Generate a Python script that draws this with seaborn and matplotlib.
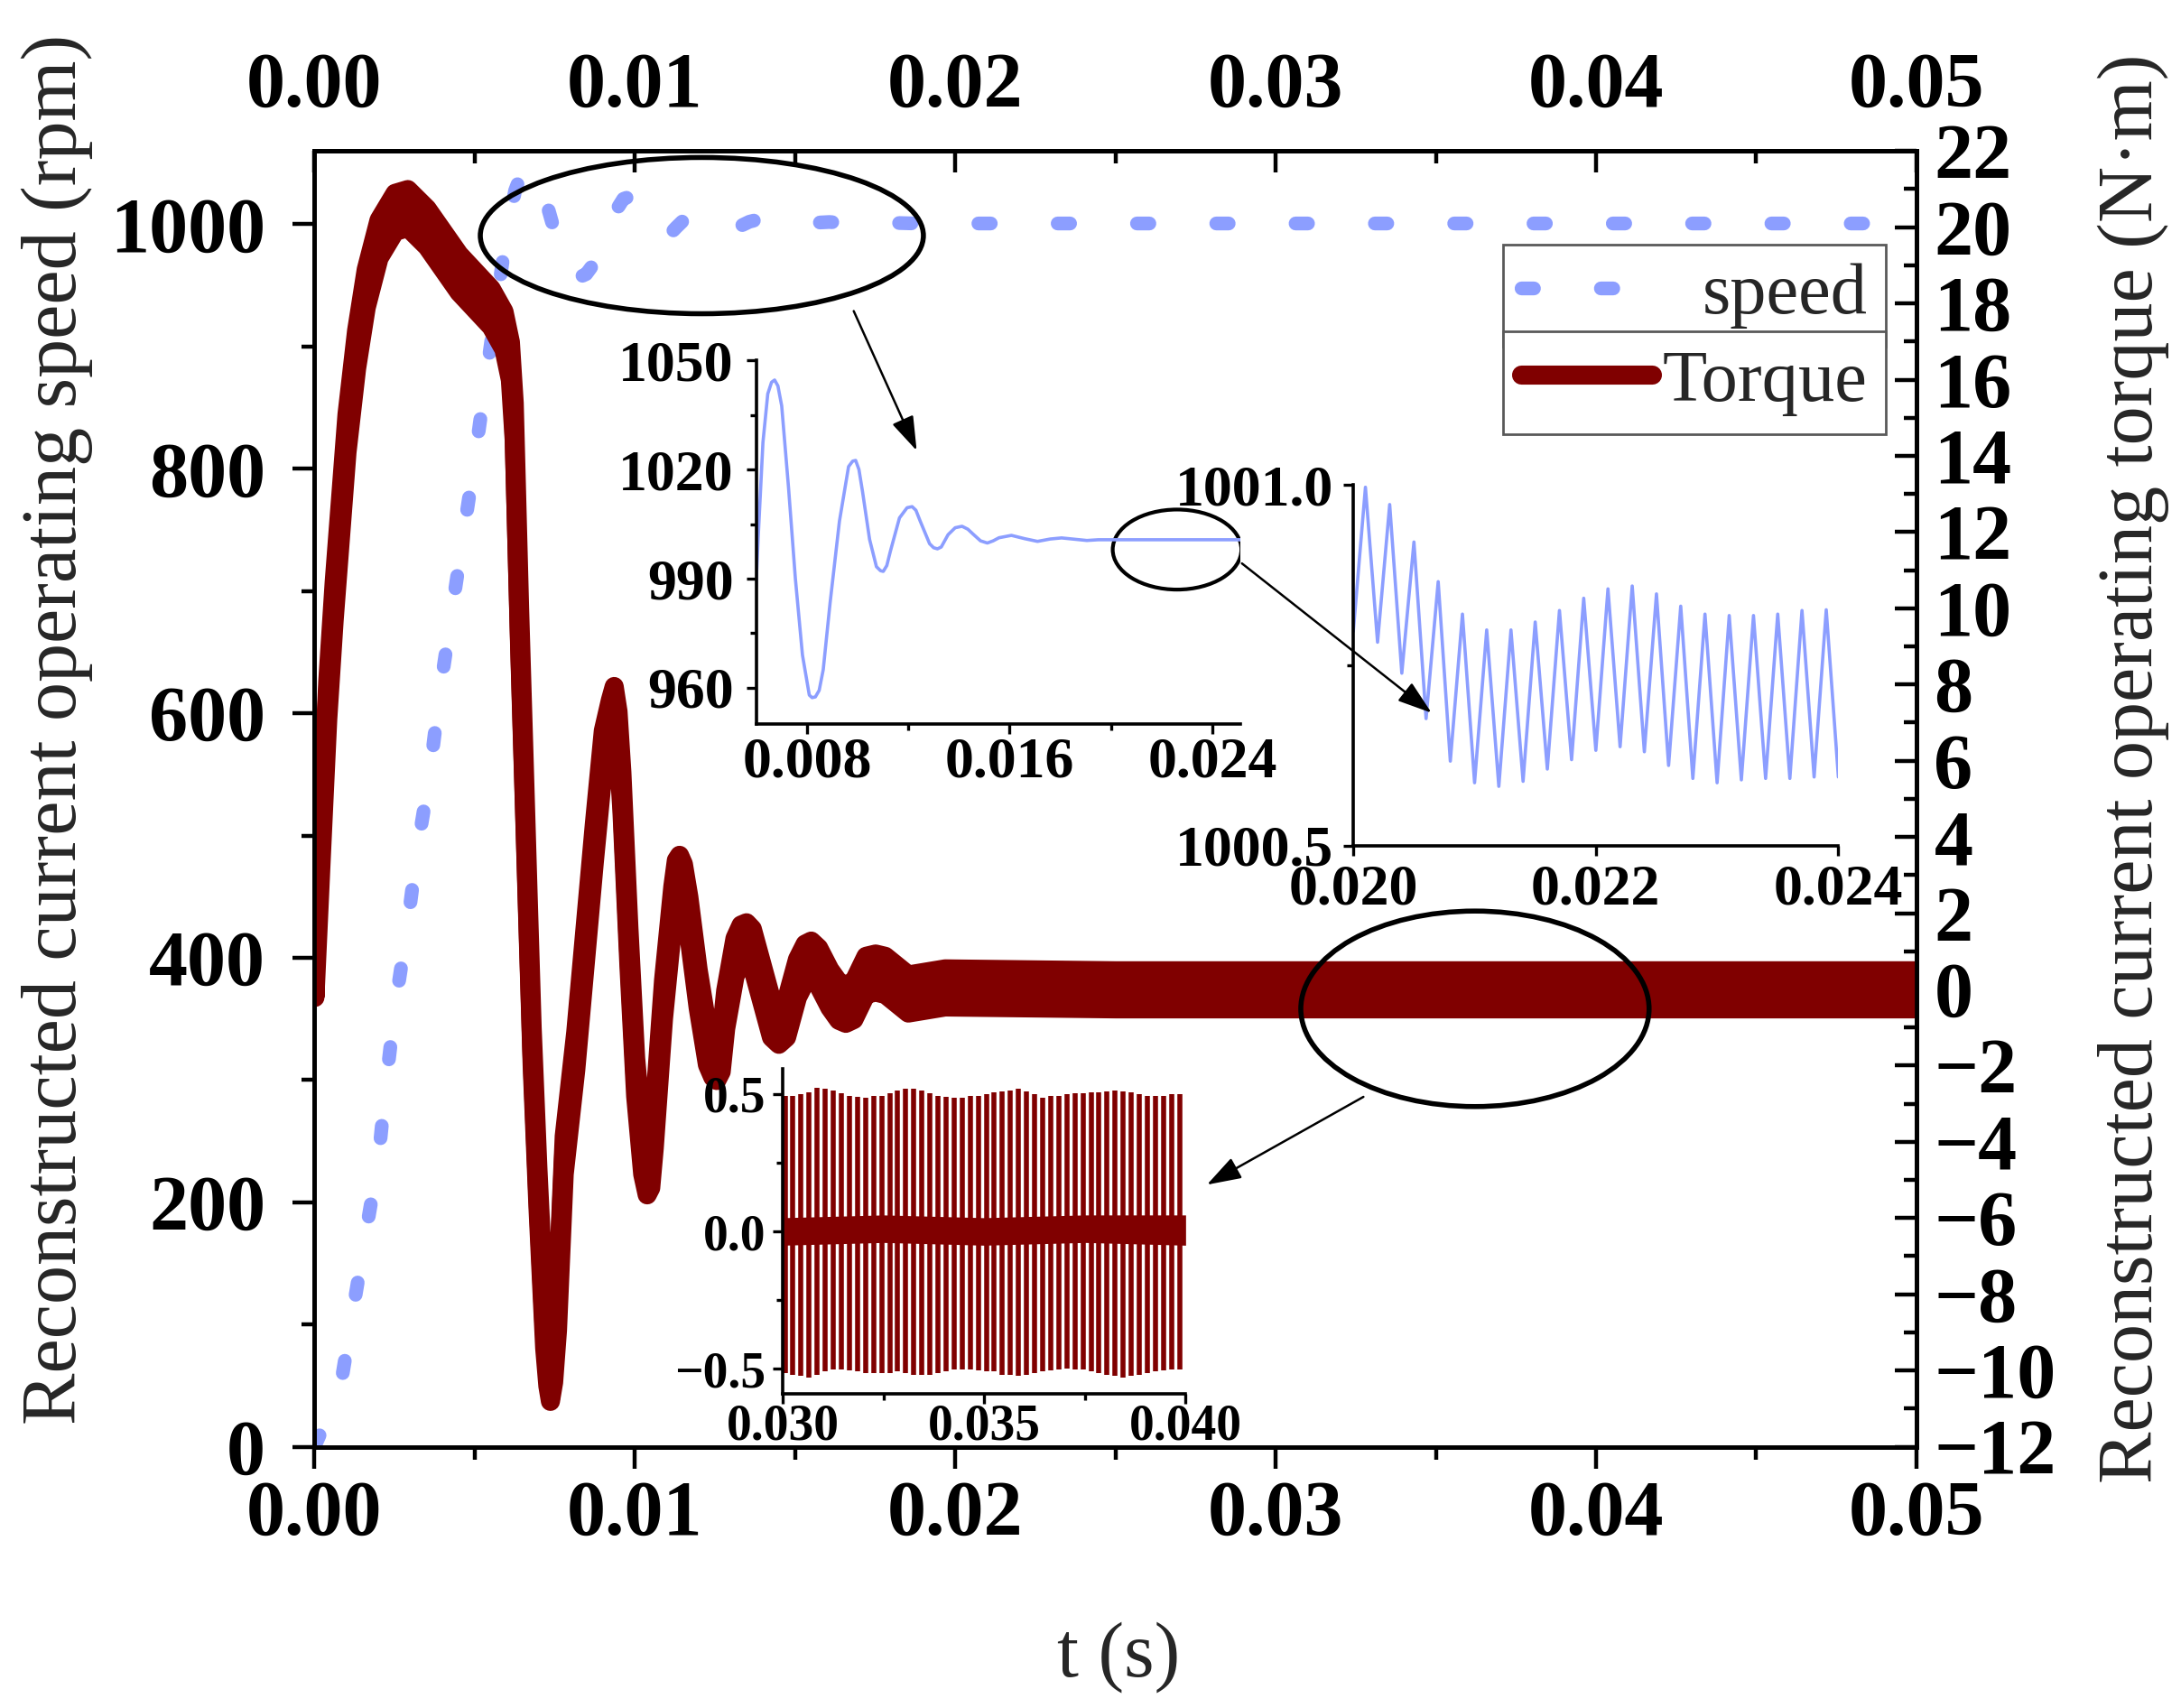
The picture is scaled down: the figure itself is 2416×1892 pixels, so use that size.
import numpy as np
import matplotlib
matplotlib.use("Agg")
import matplotlib.pyplot as plt
from matplotlib.patches import Ellipse
from matplotlib.ticker import MultipleLocator, FuncFormatter
import seaborn as sns

# ---------------- data ----------------
# speed (rpm) over time (s)
speed_t = [0.0, 0.0008, 0.0012, 0.0016, 0.0020, 0.0022, 0.0025, 0.0029, 0.0032, 0.0036, 0.0039,
           0.0046, 0.0050, 0.0053, 0.0056, 0.0059,
           0.00608, 0.00626, 0.00645, 0.00660, 0.00672, 0.00685, 0.00700, 0.00727, 0.00754, 0.00782,
           0.00809, 0.00820, 0.00833, 0.00848, 0.00864, 0.00891, 0.00928, 0.00964, 0.00980, 0.00992,
           0.01005, 0.01019, 0.01047, 0.01074, 0.01090, 0.01101, 0.01115, 0.01129, 0.01165, 0.01195,
           0.01215, 0.01230, 0.01247, 0.01284, 0.01300, 0.01315, 0.01330, 0.01357, 0.01385, 0.01412,
           0.01435, 0.01458, 0.01485, 0.01512, 0.01535, 0.01558, 0.01607, 0.01659, 0.01710, 0.01760,
           0.01805, 0.01905,
           0.0195, 0.025, 0.030, 0.040, 0.050]
speed_rpm = [0, 47, 111, 174, 236, 289, 357, 426, 487, 551, 615,
             738, 807, 864, 920, 975,
             1002.5, 1027.5, 1040.8, 1044.0, 1044.6, 1043.0, 1037.5, 1015.0, 990.0, 969.0,
             958.0, 957.3, 957.5, 959.3, 965.0, 983.3, 1005.8, 1020.8, 1022.3, 1022.5,
             1020.0, 1014.0, 1000.8, 993.3, 992.2, 992.0, 993.6, 997.5, 1006.7, 1009.5,
             1009.8, 1008.8, 1005.8, 999.6, 998.5, 998.2, 998.7, 1002.1, 1004.0, 1004.4,
             1003.6, 1002.1, 1000.4, 999.8, 1000.4, 1001.25, 1001.9, 1001.0, 1000.25, 1000.9,
             1001.2, 1000.5,
             1000.7, 1000.7, 1000.7, 1000.7, 1000.7]

# torque (N*m) over time (s), centre of the band
torque_t = [0.0, 0.0002, 0.0004, 0.0006, 0.0008, 0.0010, 0.0013, 0.0016, 0.0020, 0.0025,
            0.0029, 0.0035, 0.0040, 0.0045, 0.0050, 0.0055, 0.0059, 0.0061, 0.00622, 0.00639,
            0.00652, 0.00665, 0.00678, 0.00696, 0.00717, 0.00727, 0.00735, 0.00745, 0.00757, 0.00778,
            0.00814, 0.00843, 0.00872, 0.00900, 0.00922, 0.00934, 0.00946, 0.00958, 0.00980, 0.01001,
            0.01023, 0.01037, 0.01048, 0.01059, 0.01088, 0.01117, 0.01128, 0.01138, 0.01150, 0.01167,
            0.01196, 0.01225, 0.01242, 0.01254, 0.01268, 0.01282, 0.01311, 0.01330, 0.01347, 0.01365,
            0.01391, 0.01425, 0.01448, 0.01472, 0.01506, 0.01530, 0.01549, 0.01572, 0.01607, 0.01635,
            0.01657, 0.01682, 0.01720, 0.01750, 0.01780, 0.01852, 0.01967,
            0.025, 0.030, 0.035, 0.040, 0.045, 0.050]
torque_nm = [0.3, 4.0, 7.6, 10.2, 12.4, 14.6, 16.8, 18.4, 19.7, 20.4,
             20.5, 20.0, 19.4, 18.8, 18.35, 17.9, 17.3, 16.5, 14.9, 9.45,
             5.8, 2.1, -1.5, -5.2, -8.9, -9.9, -10.3, -9.8, -8.44, -4.34,
             -1.61, 1.12, 3.85, 6.3, 7.1, 7.46, 6.8, 5.21, 1.12, -2.29,
             -4.34, -4.88, -4.7, -3.66, -0.25, 2.21, 2.9, 3.03, 2.8, 1.94,
             0.03, -1.47, -1.8, -1.88, -1.65, -0.52, 0.85, 1.2, 1.26, 1.1,
             0.30, -0.75, -0.93, -0.75, 0.30, 0.7, 0.78, 0.6, 0.03, -0.3,
             -0.38, -0.28, 0.38, 0.44, 0.38, -0.11, 0.05,
             0.0, 0.0, 0.0, 0.0, 0.0, 0.0]
torque_ripple = 0.5   # half height of the ripple band

# speed ripple, 0.020 - 0.024 s
speed_zoom_t = [0.0200, 0.0201, 0.0202, 0.0203, 0.0204, 0.0205, 0.0206, 0.0207, 0.0208, 0.0209,
                0.0210, 0.0211, 0.0212, 0.0213, 0.0214, 0.0215, 0.0216, 0.0217, 0.0218, 0.0219,
                0.0220, 0.0221, 0.0222, 0.0223, 0.0224, 0.0225, 0.0226, 0.0227, 0.0228, 0.0229,
                0.0230, 0.0231, 0.0232, 0.0233, 0.0234, 0.0235, 0.0236, 0.0237, 0.0238, 0.0239,
                0.0240]
speed_zoom_rpm = [1000.797, 1000.997, 1000.782, 1000.973, 1000.739, 1000.921, 1000.676, 1000.866,
                  1000.617, 1000.821, 1000.587, 1000.799, 1000.582, 1000.799, 1000.589, 1000.810,
                  1000.606, 1000.826, 1000.619, 1000.843, 1000.632, 1000.856, 1000.637, 1000.860,
                  1000.630, 1000.849, 1000.611, 1000.832, 1000.593, 1000.821, 1000.587, 1000.819,
                  1000.591, 1000.819, 1000.593, 1000.821, 1000.593, 1000.826, 1000.595, 1000.827,
                  1000.595]

# torque ripple spikes, 0.030 - 0.040 s
spike_t0 = 0.03005
spike_period = 0.0002
spike_hi = [0.492, 0.494, 0.501, 0.506, 0.523, 0.520, 0.512, 0.503, 0.492, 0.490,
            0.487, 0.492, 0.492, 0.503, 0.512, 0.518, 0.520, 0.512, 0.503, 0.492,
            0.490, 0.487, 0.487, 0.492, 0.494, 0.501, 0.506, 0.509, 0.512, 0.520,
            0.509, 0.498, 0.487, 0.492, 0.494, 0.498, 0.503, 0.503, 0.506, 0.506,
            0.509, 0.512, 0.509, 0.506, 0.498, 0.492, 0.492, 0.494, 0.498, 0.498]
spike_lo = [-0.515, -0.520, -0.526, -0.531, -0.520, -0.509, -0.501, -0.501, -0.506, -0.509,
            -0.515, -0.515, -0.515, -0.515, -0.509, -0.515, -0.520, -0.523, -0.520, -0.515,
            -0.509, -0.503, -0.503, -0.503, -0.506, -0.509, -0.509, -0.520, -0.523, -0.526,
            -0.520, -0.515, -0.509, -0.506, -0.501, -0.498, -0.501, -0.503, -0.509, -0.515,
            -0.520, -0.526, -0.531, -0.526, -0.520, -0.515, -0.509, -0.506, -0.503, -0.503]
band_t = [0.0300, 0.0325, 0.0350, 0.0375, 0.0400]
band_hi = [0.05, 0.06, 0.05, 0.06, 0.06]
band_lo = [-0.05, -0.04, -0.05, -0.04, -0.05]

time_ticks = [0.0, 0.01, 0.02, 0.03, 0.04, 0.05]

SPEED_C = "#8C9EFF"
TORQUE_C = "#800000"

# ---------------- style ----------------
sns.set_theme(style="ticks")
plt.rcParams["font.family"] = ["Liberation Serif", "DejaVu Serif"]
plt.rcParams["font.weight"] = "bold"
plt.rcParams["axes.edgecolor"] = "black"
plt.rcParams["xtick.color"] = "black"
plt.rcParams["ytick.color"] = "black"
plt.rcParams["axes.unicode_minus"] = True


def fmt(pattern):
    return FuncFormatter(lambda v, p: (pattern % v).replace("-", "\u2212"))


fig = plt.figure(figsize=(12.08, 9.46), dpi=200)
ax = fig.add_axes([0.1442, 0.153, 0.7345, 0.7586])
ax.set_facecolor("white")
ax2 = ax.twinx()

# speed (left axis)
sns.lineplot(x=speed_t, y=speed_rpm, ax=ax, color=SPEED_C, linewidth=5.5,
             linestyle=(0, (0.9, 4.85)), dash_capstyle="round",
             sort=False, estimator=None, legend=False)
speed_line = ax.lines[-1]

# torque (right axis) with ripple band
t_arr = np.array(torque_t)
q_arr = np.array(torque_nm)
ax2.fill_between(t_arr, q_arr - torque_ripple, q_arr + torque_ripple, facecolor=TORQUE_C,
                 edgecolor=TORQUE_C, linewidth=7.6, joinstyle="round")
sns.lineplot(x=torque_t, y=torque_nm, ax=ax2, color=TORQUE_C, linewidth=7.6,
             solid_capstyle="round", solid_joinstyle="round",
             sort=False, estimator=None, legend=False)
torque_line = ax2.lines[-1]

ax.set_xlim(0, 0.05)
ax.set_ylim(0, 1060)
ax2.set_ylim(-12, 22)
ax.set_xlabel("")
ax.set_ylabel("")
ax2.set_ylabel("")

ax.set_xticks(time_ticks)
ax.xaxis.set_minor_locator(MultipleLocator(0.005))
ax.xaxis.set_major_formatter(fmt("%.2f"))
ax.yaxis.set_major_locator(MultipleLocator(200))
ax.yaxis.set_minor_locator(MultipleLocator(100))
ax2.yaxis.set_major_locator(MultipleLocator(2))
ax2.yaxis.set_minor_locator(MultipleLocator(1))

for sp in list(ax.spines.values()) + list(ax2.spines.values()):
    sp.set_linewidth(1.7)
    sp.set_color("black")

ax.tick_params(axis="x", which="both", direction="out", top=False, labelsize=31, width=1.6, pad=5)
ax.tick_params(axis="y", which="both", direction="out", labelsize=31, width=1.6, pad=11)
ax.tick_params(which="major", length=8.5)
ax.tick_params(which="minor", length=5)
ax2.tick_params(axis="y", which="both", direction="in", labelsize=31, width=1.6, pad=7)
ax2.tick_params(which="major", length=8.5)
ax2.tick_params(which="minor", length=5)

top = ax.secondary_xaxis("top")
top.set_xticks(time_ticks)
top.xaxis.set_minor_locator(MultipleLocator(0.005))
top.xaxis.set_major_formatter(fmt("%.2f"))
top.tick_params(which="both", direction="in", labelsize=31, width=1.6, pad=11)
top.tick_params(which="major", length=8.5)
top.tick_params(which="minor", length=5)
top.spines["top"].set_linewidth(1.7)

# axis titles
fig.text(0.026, 0.573, "Reconstructed current operating speed (rpm)", rotation=90,
         ha="center", va="center", fontsize=31, fontweight="normal")
fig.text(0.978, 0.55, "Reconstructed current operating torque (N\u00b7m)", rotation=90,
         ha="center", va="center", fontsize=31, fontweight="normal")
fig.text(0.513, 0.030, "t (s)", ha="center", va="center", fontsize=31, fontweight="normal")

# ellipses on the main plot
ax2.add_patch(Ellipse((0.01209, 19.78), 0.01383, 4.1, fill=False, edgecolor="black", lw=2.0, zorder=5))
ax2.add_patch(Ellipse((0.03622, -0.51), 0.01087, 5.13, fill=False, edgecolor="black", lw=2.0, zorder=5))

# legends (two stacked boxes)
leg_font = {"weight": "normal", "size": 29}
leg1 = ax2.legend([speed_line], ["speed"], loc="upper left", bbox_to_anchor=(0.689, 0.857),
                  bbox_transform=fig.transFigure, prop=leg_font, frameon=True, fancybox=False,
                  edgecolor="0.35", framealpha=1, handlelength=1.7, handletextpad=0.8,
                  borderpad=0.25, borderaxespad=0)
leg1.get_frame().set_linewidth(1.0)
ax2.add_artist(leg1)
leg2 = ax2.legend([torque_line], ["Torque"], loc="upper left", bbox_to_anchor=(0.689, 0.806),
                  bbox_transform=fig.transFigure, prop=leg_font, frameon=True, fancybox=False,
                  edgecolor="0.35", framealpha=1, handlelength=1.8, handletextpad=0.15,
                  borderpad=0.25, borderaxespad=0)
leg2.get_frame().set_linewidth(1.0)


def style_inset(a, size):
    a.set_facecolor("none")
    for side in ("top", "right"):
        a.spines[side].set_visible(False)
    for side in ("left", "bottom"):
        a.spines[side].set_linewidth(1.3)
        a.spines[side].set_color("black")
    a.tick_params(which="both", direction="out", labelsize=size, width=1.2)
    a.tick_params(which="major", length=4)
    a.tick_params(which="minor", length=2.5)
    a.set_xlabel("")
    a.set_ylabel("")


# inset 1: speed overshoot
ins1 = fig.add_axes([0.3468, 0.576, 0.2218, 0.213])
sns.lineplot(x=speed_t, y=speed_rpm, ax=ins1, color=SPEED_C, linewidth=1.3,
             sort=False, estimator=None, legend=False)
ins1.set_xlim(0.006, 0.0251)
ins1.set_ylim(950, 1050)
ins1.set_xticks([0.008, 0.016, 0.024])
ins1.xaxis.set_minor_locator(MultipleLocator(0.004))
ins1.xaxis.set_major_formatter(fmt("%.3f"))
ins1.set_yticks([960, 990, 1020, 1050])
ins1.yaxis.set_minor_locator(MultipleLocator(15))
ins1.yaxis.set_major_formatter(fmt("%d"))
style_inset(ins1, 23)
ins1.tick_params(axis="x", pad=1)
ins1.tick_params(axis="y", pad=5)
ins1.add_patch(Ellipse((0.02261, 998.0), 0.00508, 22, fill=False, edgecolor="black", lw=1.5))

# inset 2: steady-state speed ripple
ins2 = fig.add_axes([0.6205, 0.505, 0.2224, 0.211])
sns.lineplot(x=speed_zoom_t, y=speed_zoom_rpm, ax=ins2, color=SPEED_C, linewidth=1.3,
             sort=False, estimator=None, legend=False)
ins2.set_xlim(0.020, 0.024)
ins2.set_ylim(1000.5, 1001.0)
ins2.set_xticks([0.020, 0.022, 0.024])
ins2.xaxis.set_major_formatter(fmt("%.3f"))
ins2.set_yticks([1000.5, 1001.0])
ins2.yaxis.set_minor_locator(MultipleLocator(0.25))
ins2.yaxis.set_major_formatter(fmt("%.1f"))
style_inset(ins2, 23)
ins2.tick_params(axis="x", pad=3.5)
ins2.tick_params(axis="y", pad=4)

# inset 3: steady-state torque ripple
ins3 = fig.add_axes([0.359, 0.184, 0.1846, 0.19])
spike_x = spike_t0 + spike_period * np.arange(len(spike_hi))
ins3.fill_between(band_t, band_lo, band_hi, color=TORQUE_C, linewidth=0)
ins3.vlines(spike_x, spike_lo, spike_hi, colors=TORQUE_C, linewidth=2.0)
ins3.set_xlim(0.030, 0.040)
ins3.set_ylim(-0.59, 0.59)
ins3.set_xticks([0.030, 0.035, 0.040])
ins3.xaxis.set_minor_locator(MultipleLocator(0.0025))
ins3.xaxis.set_major_formatter(fmt("%.3f"))
ins3.set_yticks([-0.5, 0.0, 0.5])
ins3.yaxis.set_minor_locator(MultipleLocator(0.25))
ins3.yaxis.set_major_formatter(fmt("%.1f"))
style_inset(ins3, 20)
ins3.tick_params(axis="x", pad=0)
ins3.tick_params(axis="y", pad=3)

# arrows from the circled regions to the insets
arrow = dict(arrowstyle="-|>,head_length=0.45,head_width=0.15", color="black", lw=0.9,
             mutation_scale=26, shrinkA=0, shrinkB=0)
ins1.annotate("", xy=(0.01233, 1025.2), xycoords="data", xytext=(0.01683, 17.8),
              textcoords=ax2.transData, arrowprops=arrow, annotation_clip=False)
ins2.annotate("", xy=(0.020645, 1000.684), xycoords="data", xytext=(0.02517, 994.2),
              textcoords=ins1.transData, arrowprops=arrow, annotation_clip=False)
ins3.annotate("", xy=(0.04053, 0.17), xycoords="data", xytext=(0.03274, -2.82),
              textcoords=ax2.transData, arrowprops=arrow, annotation_clip=False)

fig.savefig("out.png", dpi=200)
